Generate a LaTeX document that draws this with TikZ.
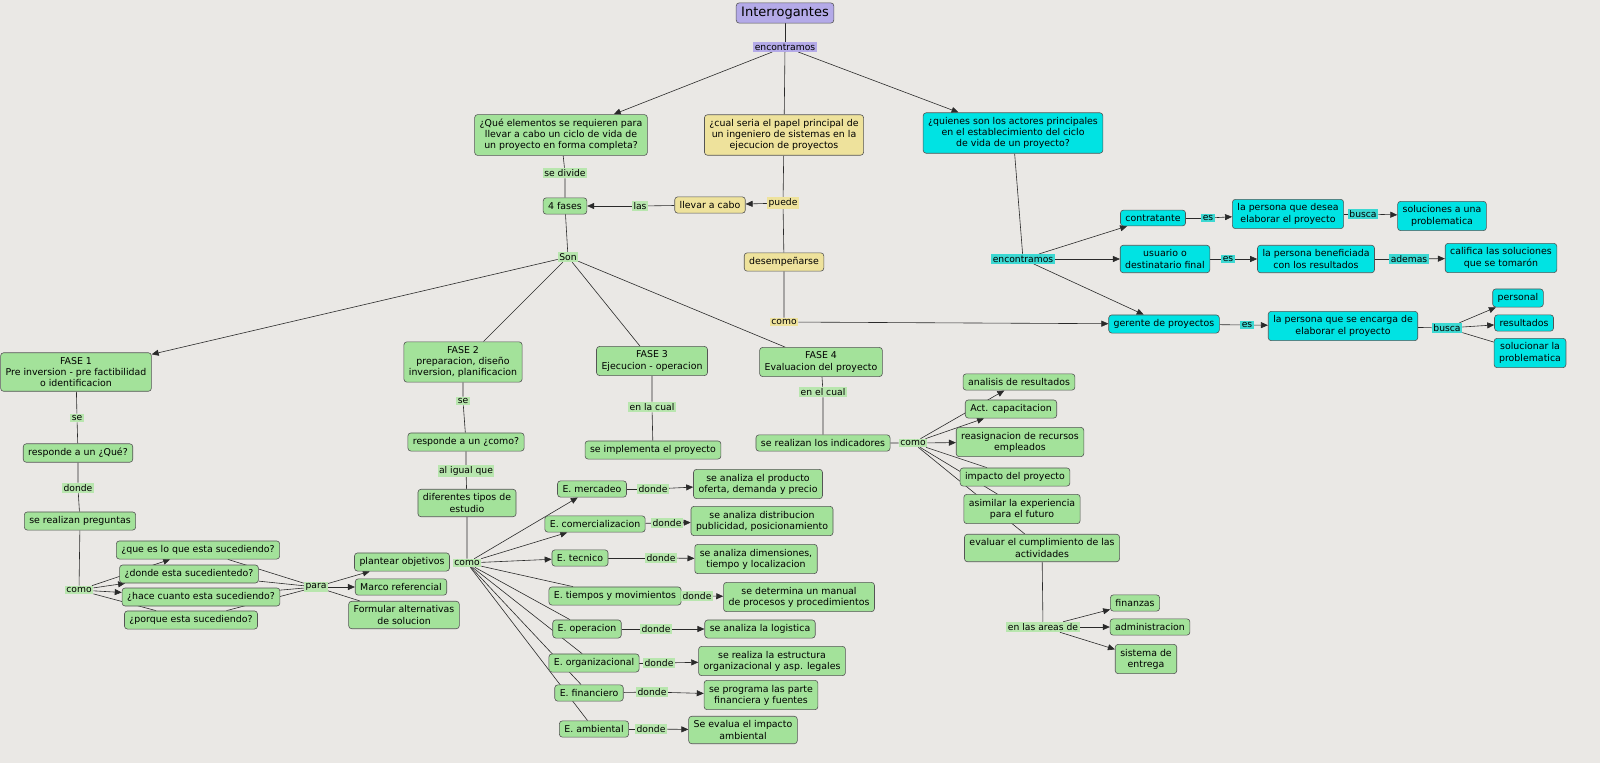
\documentclass[tikz,border=0pt]{standalone}
\usepackage{fontspec}
\setmainfont{DejaVu Sans}
\usetikzlibrary{arrows.meta}
\pgfdeclarelayer{back}\pgfdeclarelayer{edges}
\pgfsetlayers{back,edges,main}
\definecolor{bg}{HTML}{EAE8E5}
\definecolor{gbox}{HTML}{A3E29A}
\definecolor{glbl}{HTML}{B8E6AE}
\definecolor{cbox}{HTML}{00E3E3}
\definecolor{clbl}{HTML}{3CD8D2}
\definecolor{kbox}{HTML}{EEE29C}
\definecolor{lav}{HTML}{B4AAE8}
\definecolor{ln}{HTML}{2A2A2A}
\tikzset{
 box/.style={draw=ln!80,rounded corners=3pt,align=center,inner xsep=5pt,inner ysep=4.5pt,font=\fontsize{9.4}{11.2}\selectfont,line width=0.6pt},
 g/.style={box,fill=gbox},
 c/.style={box,fill=cbox},
 k/.style={box,fill=kbox},
 lb/.style={fill=glbl,inner sep=1.5pt,font=\fontsize{9.2}{10.5}\selectfont},
 lc/.style={lb,fill=clbl},
 lk/.style={lb,fill=kbox},
 arr/.style={-{Triangle[length=7pt,width=6pt]}},
 e/.style={draw=ln,line width=0.6pt}
}
\begin{document}
\begin{tikzpicture}[x=1pt,y=-1pt]
\begin{pgfonlayer}{back}
\fill[bg] (0,0) rectangle (1600,763);
\end{pgfonlayer}
\useasboundingbox (0,0) rectangle (1600,763);
% nodes
\node[box,fill=lav,font=\fontsize{13}{15}\selectfont,inner ysep=4pt] (top) at (785,13) {Interrogantes};
\node[lb,fill=lav] (enc) at (785,47) {encontramos};
\node[g] (q1) at (561,135) {¿Qué elementos se requieren para\\llevar a cabo un ciclo de vida de\\un proyecto en forma completa?};
\node[k] (q2) at (784,135) {¿cual seria el papel principal de\\un ingeniero de sistemas en la\\ejecucion de proyectos};
\node[c] (q3) at (1013,133) {¿quienes son los actores principales\\en el establecimiento del ciclo\\de vida de un proyecto?};
\node[lb] (sediv) at (565,173) {se divide};
\node[g] (f4) at (565,206) {4 fases};
\node[lk] (puede) at (783,203) {puede};
\node[k] (llev) at (710,205) {llevar a cabo};
\node[lb] (las) at (640,206) {las};
\node[k] (desem) at (784,262) {desempeñarse};
\node[lk] (como0) at (784,322) {como};
\node[lb] (son) at (568,257) {Son};
\node[g] (fa1) at (76,372) {FASE 1\\Pre inversion - pre factibilidad\\o identificacion};
\node[g] (fa2) at (463,362) {FASE 2\\preparacion, diseño\\inversion, planificacion};
\node[g] (fa3) at (652,361) {FASE 3\\Ejecucion - operacion};
\node[g] (fa4) at (821,362) {FASE 4\\Evaluacion del proyecto};
\node[lb] (se1) at (77,418) {se};
\node[g] (resq) at (78,453) {responde a un ¿Qué?};
\node[lb] (don1) at (78,488) {donde};
\node[g] (sreal) at (80,521) {se realizan preguntas};
\node[lb] (como1) at (79,590) {como};
\node[g] (p1) at (198,550) {¿que es lo que esta sucediendo?};
\node[g] (p2) at (189,574) {¿donde esta sucedientedo?};
\node[g] (p3) at (201,597) {¿hace cuanto esta sucediendo?};
\node[g] (p4) at (191,620) {¿porque esta sucediendo?};
\node[lb] (para) at (316,587) {para};
\node[g] (o1) at (402,562) {plantear objetivos};
\node[g] (o2) at (401,587) {Marco referencial};
\node[g] (o3) at (404,615) {Formular alternativas\\de solucion};
\node[lb] (se2) at (463,401) {se};
\node[g] (resc) at (466,442) {responde a un ¿como?};
\node[lb] (aig) at (466,471) {al igual que};
\node[g] (dif) at (467,503) {diferentes tipos de\\estudio};
\node[lb] (como2) at (467,563) {como};
\foreach \n/\x/\y/\t/\dx/\dy/\d/\ex/\ey in {
 em/592/489/{E. mercadeo}/653/489/{se analiza el producto\\oferta, demanda y precio}/758/484,
 ec/595/524/{E. comercializacion}/667/523/{se analiza distribucion\\publicidad, posicionamiento}/762/521,
 et/580/558/{E. tecnico}/661/558/{se analiza dimensiones,\\tiempo y localizacion}/756/559,
 etm/615/596/{E. tiempos y movimientos}/697/596/{se determina un manual\\de procesos y procedimientos}/799/597,
 eo/587/629/{E. operacion}/656/629/{se analiza la logistica}/760/629,
 eor/594/663/{E. organizacional}/659/663/{se realiza la estructura\\organizacional y asp. legales}/772/661,
 ef/589/693/{E. financiero}/652/692/{se programa las parte\\financiera y fuentes}/761/695,
 ea/594/729/{E. ambiental}/651/729/{Se evalua el impacto\\ambiental}/743/730}{
 \node[g] (\n) at (\x,\y) {\t};
 \node[lb] (\n d) at (\dx,\dy) {donde};
 \node[g] (\n r) at (\ex,\ey) {\d};
 \begin{pgfonlayer}{edges}
 \draw[e] (\n) -- (\n d);
 \draw[e,arr] (\n d) -- (\n r);
 \end{pgfonlayer}
}
\node[lb] (elc) at (652,407) {en la cual};
\node[g] (simp) at (653,450) {se implementa el proyecto};
\node[lb] (eec) at (823,392) {en el cual};
\node[g] (sind) at (823,443) {se realizan los indicadores};
\node[lb] (como4) at (913,443) {como};
\node[g] (i1) at (1019,382) {analisis de resultados};
\node[g] (i2) at (1011,409) {Act. capacitacion};
\node[g] (i3) at (1020,442) {reasignacion de recursos\\empleados};
\node[g] (i4) at (1015,477) {impacto del proyecto};
\node[g] (i5) at (1022,509) {asimilar la experiencia\\para el futuro};
\node[g] (i6) at (1042,548) {evaluar el cumplimiento de las\\actividades};
\node[lb] (ela) at (1043,627) {en las areas de};
\node[g] (a1) at (1135,603) {finanzas};
\node[g] (a2) at (1150,627) {administracion};
\node[g] (a3) at (1146,659) {sistema de\\entrega};
\node[lc] (enc3) at (1023,259) {encontramos};
\node[c] (ct) at (1153,218) {contratante};
\node[c] (us) at (1165,259) {usuario o\\destinatario final};
\node[c] (ge) at (1164,324) {gerente de proyectos};
\node[lc] (es1) at (1208,218) {es};
\node[c] (pd) at (1288,214) {la persona que desea\\elaborar el proyecto};
\node[lc] (bu1) at (1363,214) {busca};
\node[c] (sp) at (1442,216) {soluciones a una\\problematica};
\node[lc] (es2) at (1228,259) {es};
\node[c] (pb) at (1316,259) {la persona beneficiada\\con los resultados};
\node[lc] (ad) at (1409,259) {ademas};
\node[c] (cs) at (1501,258) {califica las soluciones\\que se tomarón};
\node[lc] (es3) at (1247,325) {es};
\node[c] (pe) at (1343,326) {la persona que se encarga de\\elaborar el proyecto};
\node[lc] (bu3) at (1447,328) {busca};
\node[c] (r1) at (1518,298) {personal};
\node[c] (r2) at (1524,323) {resultados};
\node[c] (r3) at (1530,353) {solucionar la\\problematica};
% edges
\begin{pgfonlayer}{edges}
\begin{scope}[every path/.style={e}]
\draw (top) -- (enc);
\draw[arr] (enc) -- (q1);
\draw (enc) -- (q2);
\draw[arr] (enc) -- (q3);
\draw (q1) -- (sediv) -- (f4);
\draw (q2) -- (puede);
\draw[arr] (puede) -- (llev);
\draw (llev) -- (las);
\draw[arr] (las) -- (f4);
\draw (puede) -- (desem) -- (como0);
\draw (f4) -- (son);
\draw[arr] (son) -- (fa1);
\draw (son) -- (fa2);
\draw (son) -- (fa3);
\draw (son) -- (fa4);
\draw (fa1) -- (se1) -- (resq) -- (don1) -- (sreal) -- (como1);
\draw[arr] (como1) -- (p1);
\draw[arr] (como1) -- (p2);
\draw[arr] (como1) -- (p3);
\draw (como1) -- (p4);
\foreach \p in {p1,p2,p3,p4} \draw (\p) -- (para);
\draw[arr] (para) -- (o1);
\draw[arr] (para) -- (o2);
\draw (para) -- (o3);
\draw (fa2) -- (se2) -- (resc) -- (aig) -- (dif) -- (como2);
\draw[arr] (como2) -- (em);
\draw[arr] (como2) -- (ec);
\draw[arr] (como2) -- (et);
\foreach \n in {etm,eo,eor,ef,ea} \draw (como2) -- (\n);
\draw (fa3) -- (elc) -- (simp);
\draw (fa4) -- (eec) -- (sind) -- (como4);
\draw[arr] (como4) -- (i1);
\draw[arr] (como4) -- (i2);
\draw[arr] (como4) -- (i3);
\draw (como4) -- (i4);
\draw (como4) -- (i5);
\draw (como4) -- (i6);
\draw (i6) -- (ela);
\draw[arr] (ela) -- (a1);
\draw[arr] (ela) -- (a2);
\draw[arr] (ela) -- (a3);
\draw (q3) -- (enc3);
\draw[arr] (enc3) -- (ct);
\draw[arr] (enc3) -- (us);
\draw[arr] (enc3) -- (ge);
\draw[arr] (como0) -- (ge);
\draw (ct) -- (es1); \draw[arr] (es1) -- (pd);
\draw (pd) -- (bu1); \draw[arr] (bu1) -- (sp);
\draw (us) -- (es2); \draw[arr] (es2) -- (pb);
\draw (pb) -- (ad); \draw[arr] (ad) -- (cs);
\draw (ge) -- (es3); \draw[arr] (es3) -- (pe);
\draw (pe) -- (bu3);
\draw[arr] (bu3) -- (r1);
\draw[arr] (bu3) -- (r2);
\draw (bu3) -- (r3);
\end{scope}
\end{pgfonlayer}
\end{tikzpicture}
\end{document}
